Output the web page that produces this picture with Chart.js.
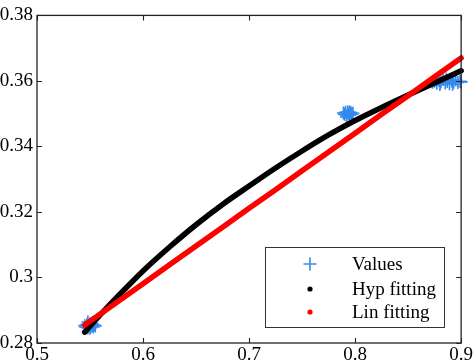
<!DOCTYPE html>
<html>
<head>
<meta charset="utf-8">
<script src="https://cdn.jsdelivr.net/npm/chart.js@4/dist/chart.umd.min.js"></script>
<style>
html,body{margin:0;padding:0;background:#fff;}
canvas{display:block;}
</style>
</head>
<body>
<canvas id="c" width="474" height="364"></canvas>
<script>
// ---- data ----
const xTickValues = [0.5, 0.6, 0.7, 0.8, 0.9];
const xTickLabels = ['0.5', '0.6', '0.7', '0.8', '0.9'];
const yTickValues = [0.28, 0.30, 0.32, 0.34, 0.36, 0.38];
const yTickLabels = ['0.28', '0.3', '0.32', '0.34', '0.36', '0.38'];

const valuesX = [0.545, 0.546, 0.547, 0.548, 0.549, 0.550, 0.551, 0.552, 0.553, 0.554, 0.555, 0.548, 0.550, 0.552,
                 0.789, 0.790, 0.791, 0.792, 0.793, 0.794, 0.795, 0.796, 0.797, 0.798, 0.792, 0.795,
                 0.873, 0.875, 0.877, 0.879, 0.881, 0.883, 0.885, 0.887, 0.889, 0.891, 0.893, 0.895, 0.897, 0.899, 0.900, 0.880, 0.886, 0.892];
const valuesY = [0.2853, 0.2848, 0.2856, 0.2846, 0.2852, 0.2858, 0.2850, 0.2854, 0.2849, 0.2855, 0.2852, 0.2864, 0.2845, 0.2860,
                 0.3502, 0.3498, 0.3504, 0.3493, 0.3506, 0.3500, 0.3495, 0.3503, 0.3499, 0.3501, 0.3490, 0.3505,
                 0.3596, 0.3599, 0.3593, 0.3601, 0.3597, 0.3604, 0.3594, 0.3598, 0.3591, 0.3600, 0.3596, 0.3603, 0.3595, 0.3599, 0.3597, 0.3589, 0.3606, 0.3590];

const fitX   = [0.545, 0.56, 0.58, 0.60, 0.625, 0.65, 0.675, 0.70, 0.725, 0.75, 0.775, 0.80, 0.825, 0.85, 0.875, 0.90];
const hypY   = [0.2833, 0.2887, 0.2955, 0.3020, 0.3093, 0.3161, 0.3223, 0.3279, 0.3334, 0.3386, 0.3435, 0.3479, 0.3519, 0.3557, 0.3594, 0.3631];
const linY   = [0.2855, 0.2889, 0.2935, 0.2981, 0.3039, 0.3096, 0.3153, 0.3211, 0.3268, 0.3326, 0.3383, 0.3440, 0.3498, 0.3555, 0.3613, 0.3670];

const seriesLabels = ['Values', 'Hyp fitting', 'Lin fitting'];
const seriesColors = ['#3589ee', '#000000', '#ff0000'];

// ---- build chart ----
const pts = (xs, ys) => xs.map((x, i) => ({x: x, y: ys[i]}));
const FONT = "'Liberation Serif', 'DejaVu Serif', serif";
Chart.defaults.font.family = FONT;
Chart.defaults.font.size = 19;
Chart.defaults.color = '#000';
const tickFont = {family: FONT, size: 19};

const framePlugin = {
  id: 'frame',
  afterDraw(chart) {
    const ctx = chart.ctx, a = chart.chartArea;
    const xs = chart.scales.x, ys = chart.scales.y;
    ctx.save();
    ctx.strokeStyle = '#222';
    ctx.lineWidth = 1.3;
    ctx.strokeRect(a.left, a.top, a.right - a.left, a.bottom - a.top);
    ctx.lineWidth = 1.1;
    const L = 5;
    ctx.beginPath();
    xTickValues.forEach(v => {
      const p = Math.round(xs.getPixelForValue(v)) + 0.5;
      ctx.moveTo(p, a.bottom); ctx.lineTo(p, a.bottom - L);
      ctx.moveTo(p, a.top); ctx.lineTo(p, a.top + L);
    });
    yTickValues.forEach(v => {
      const p = Math.round(ys.getPixelForValue(v)) + 0.5;
      ctx.moveTo(a.left, p); ctx.lineTo(a.left + L, p);
      ctx.moveTo(a.right, p); ctx.lineTo(a.right - L, p);
    });
    ctx.stroke();

    // legend box
    const bx = 265.5, by = 247.5, bw = 179, bh = 80;
    ctx.fillStyle = '#fff';
    ctx.fillRect(bx, by, bw, bh);
    ctx.strokeStyle = '#333';
    ctx.lineWidth = 1;
    ctx.strokeRect(bx, by, bw, bh);
    const rows = [264, 289, 312];
    const mx = 310, tx = 352;
    ctx.font = '19px ' + FONT;
    ctx.textBaseline = 'middle';
    ctx.textAlign = 'left';
    chart.data.datasets.forEach((ds, i) => {
      const y = rows[i];
      if (i === 0) {
        ctx.strokeStyle = seriesColors[0];
        ctx.lineWidth = 1.6;
        ctx.beginPath();
        ctx.moveTo(mx - 6.5, y); ctx.lineTo(mx + 6.5, y);
        ctx.moveTo(mx, y - 6.5); ctx.lineTo(mx, y + 6.5);
        ctx.stroke();
      } else {
        ctx.fillStyle = seriesColors[i];
        ctx.beginPath();
        ctx.arc(mx, y, 2.6, 0, Math.PI * 2);
        ctx.fill();
      }
      ctx.fillStyle = '#000';
      ctx.fillText(ds.label, tx, y + 1);
    });
    ctx.restore();
  }
};

new Chart(document.getElementById('c'), {
  type: 'scatter',
  data: {
    datasets: [
      {
        label: seriesLabels[0],
        data: pts(valuesX, valuesY),
        pointStyle: 'cross',
        pointRadius: 6.5,
        borderColor: seriesColors[0],
        backgroundColor: seriesColors[0],
        pointBorderWidth: 1.6,
        showLine: false,
        order: 3,
        clip: false
      },
      {
        label: seriesLabels[1],
        data: pts(fitX, hypY),
        showLine: true,
        pointRadius: 0,
        borderColor: seriesColors[1],
        backgroundColor: seriesColors[1],
        borderWidth: 5.5,
        borderCapStyle: 'round',
        cubicInterpolationMode: 'monotone',
        order: 2,
        clip: false
      },
      {
        label: seriesLabels[2],
        data: pts(fitX, linY),
        showLine: true,
        pointRadius: 0,
        borderColor: seriesColors[2],
        backgroundColor: seriesColors[2],
        borderWidth: 5.5,
        borderCapStyle: 'round',
        order: 1,
        clip: false
      }
    ]
  },
  options: {
    responsive: false,
    animation: false,
    layout: {padding: {left: 0, right: 11, top: 8, bottom: 0}},
    plugins: {legend: {display: false}, tooltip: {enabled: false}},
    scales: {
      x: {
        type: 'linear',
        min: 0.5, max: 0.9,
        afterBuildTicks: s => { s.ticks = xTickValues.map(v => ({value: v})); },
        afterFit: s => { s.height = 21; },
        grid: {display: false, drawTicks: false},
        border: {display: false},
        ticks: {
          font: tickFont,
          color: '#000',
          padding: 1,
          maxRotation: 0,
          autoSkip: false,
          callback: (v, i) => xTickLabels[i]
        }
      },
      y: {
        type: 'linear',
        min: 0.28, max: 0.38,
        afterBuildTicks: s => { s.ticks = yTickValues.map(v => ({value: v})); },
        afterFit: s => { s.width = 37; },
        grid: {display: false, drawTicks: false},
        border: {display: false},
        ticks: {
          font: tickFont,
          color: '#000',
          padding: 4,
          autoSkip: false,
          callback: (v, i) => yTickLabels[i]
        }
      }
    }
  },
  plugins: [framePlugin]
});
</script>
</body>
</html>
